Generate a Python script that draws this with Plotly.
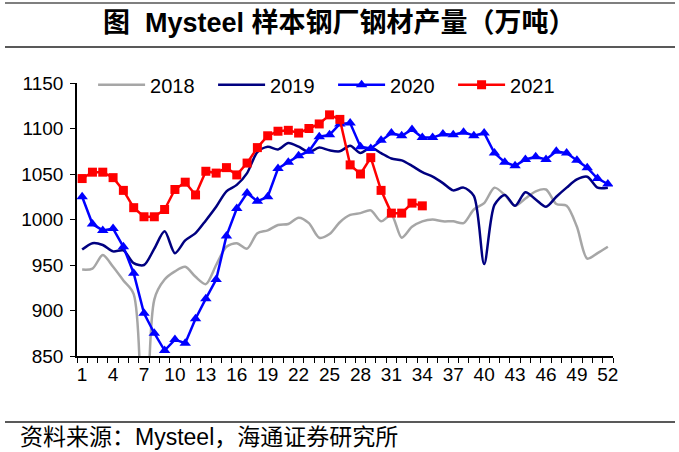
import plotly.graph_objects as go

weeks = list(range(1, 53))
x_tick_labels = list(range(1, 53, 3))

y2018 = [945, 946, 961, 948, 933, 918, 300, 912, 934, 943, 948, 937, 929, 950, 970, 974,
         968, 985, 988, 994, 995, 1002, 996, 980, 984, 997, 1005, 1007, 1010, 998, 1005, 980,
         992, 998, 1000, 998, 998, 996, 1011, 1018, 1035, 1027, 1015, 1023, 1031, 1033, 1017,
         1015, 992, 957, 963, 970]
y2019 = [967, 974, 972, 965, 966, 952, 950, 968, 987, 963, 977, 985, 999, 1014, 1031, 1038,
         1051, 1074, 1080, 1077, 1084, 1080, 1074, 1079, 1076, 1075, 1081, 1073, 1079, 1073, 1067,
         1065, 1059, 1052, 1047, 1040, 1032, 1035, 1026, 951, 1016, 1027, 1015, 1030, 1022, 1014,
         1025, 1035, 1044, 1047, 1035, 1035]
y2020 = [1025, 995, 988, 990, 970, 941, 897, 875, 856, 868, 864, 891, 913, 934, 982, 1012,
         1029, 1020, 1025, 1056, 1063, 1070, 1075, 1091, 1093, 1105, 1106, 1080, 1078, 1087, 1095,
         1092, 1099, 1090, 1090, 1094, 1093, 1096, 1092, 1095, 1073, 1063, 1059, 1066, 1069, 1066,
         1075, 1073, 1065, 1057, 1045, 1039]
y2021 = [1045, 1052, 1052, 1046, 1032, 1013, 1003, 1003, 1011, 1033, 1041, 1027, 1053, 1051,
         1057, 1049, 1062, 1079, 1092, 1097, 1098, 1095, 1100, 1105, 1115, 1110, 1060, 1050, 1068,
         1032, 1007, 1007, 1018, 1015]

FONT = "Liberation Sans, Arial, Noto Sans CJK SC"
CJK = "Liberation Sans, Noto Sans CJK SC"

fig = go.Figure()
fig.add_trace(go.Scatter(x=weeks, y=y2018, name="2018", mode="lines",
                         line=dict(color="#A6A6A6", width=2.5, shape="spline", smoothing=0.8)))
fig.add_trace(go.Scatter(x=weeks, y=y2019, name="2019", mode="lines",
                         line=dict(color="#000080", width=2.5, shape="spline", smoothing=0.8)))
fig.add_trace(go.Scatter(x=weeks, y=y2020, name="2020", mode="lines+markers",
                         line=dict(color="#0000FF", width=2.5),
                         marker=dict(symbol="triangle-up", size=10, color="#0000FF")))
fig.add_trace(go.Scatter(x=weeks[:len(y2021)], y=y2021, name="2021", mode="lines+markers",
                         line=dict(color="#FF0000", width=2.5),
                         marker=dict(symbol="square", size=9, color="#FF0000")))

fig.update_layout(
    width=679, height=452,
    margin=dict(l=77, r=66, t=83, b=96),
    paper_bgcolor="white", plot_bgcolor="white",
    font=dict(family=FONT, size=20, color="black"),
    hovermode=False,
    showlegend=True,
    legend=dict(orientation="h", x=0.03, y=1.065, xanchor="left", yanchor="top",
                bgcolor="rgba(0,0,0,0)", font=dict(size=20, family=FONT),
                entrywidth=58, entrywidthmode="pixels", itemwidth=47, tracegroupgap=0),
    xaxis=dict(range=[0.5, 52.5], tickmode="array", tickvals=x_tick_labels,
               ticktext=[str(v) for v in x_tick_labels], ticks="", showgrid=False,
               zeroline=False, showline=True, linecolor="black", linewidth=1.5,
               tickfont=dict(size=19, family=FONT),
               minor=dict(tickmode="array", tickvals=[w - 0.5 for w in weeks] + [52.5],
                          ticks="outside", ticklen=5, tickwidth=1, tickcolor="black")),
    yaxis=dict(range=[850, 1150], tickmode="linear", tick0=850, dtick=50, ticks="outside",
               ticklen=5, tickwidth=1, tickcolor="black", showgrid=False, zeroline=False,
               showline=True, linecolor="black", linewidth=1.5, ticklabelstandoff=3,
               tickfont=dict(size=19, family=FONT)),
)

def px_x(x):
    return (x - 77) / 536.0

def px_y(y):
    return (356 - y) / 273.0

fig.add_shape(type="line", xref="paper", yref="paper", x0=px_x(5), x1=px_x(675),
              y0=px_y(3), y1=px_y(3), line=dict(color="#555555", width=1.5))
fig.add_shape(type="line", xref="paper", yref="paper", x0=px_x(5), x1=px_x(675),
              y0=px_y(47), y1=px_y(47), line=dict(color="#222222", width=1.5))
fig.add_shape(type="line", xref="paper", yref="paper", x0=px_x(5), x1=px_x(675),
              y0=px_y(422), y1=px_y(422), line=dict(color="#222222", width=1.5))

fig.add_annotation(xref="paper", yref="paper", x=px_x(339), y=px_y(23),
                   text="<b>图  Mysteel 样本钢厂钢材产量（万吨）</b>", showarrow=False,
                   xanchor="center", yanchor="middle", font=dict(size=27, family=CJK, color="black"))
fig.add_annotation(xref="paper", yref="paper", x=px_x(18), y=px_y(437),
                   text="资料来源：Mysteel，海通证券研究所", showarrow=False,
                   xanchor="left", yanchor="middle", font=dict(size=23, family=CJK, color="black"))

fig.write_html("out.html", config={"displayModeBar": False},
               post_script="document.body.style.margin='0px';")
